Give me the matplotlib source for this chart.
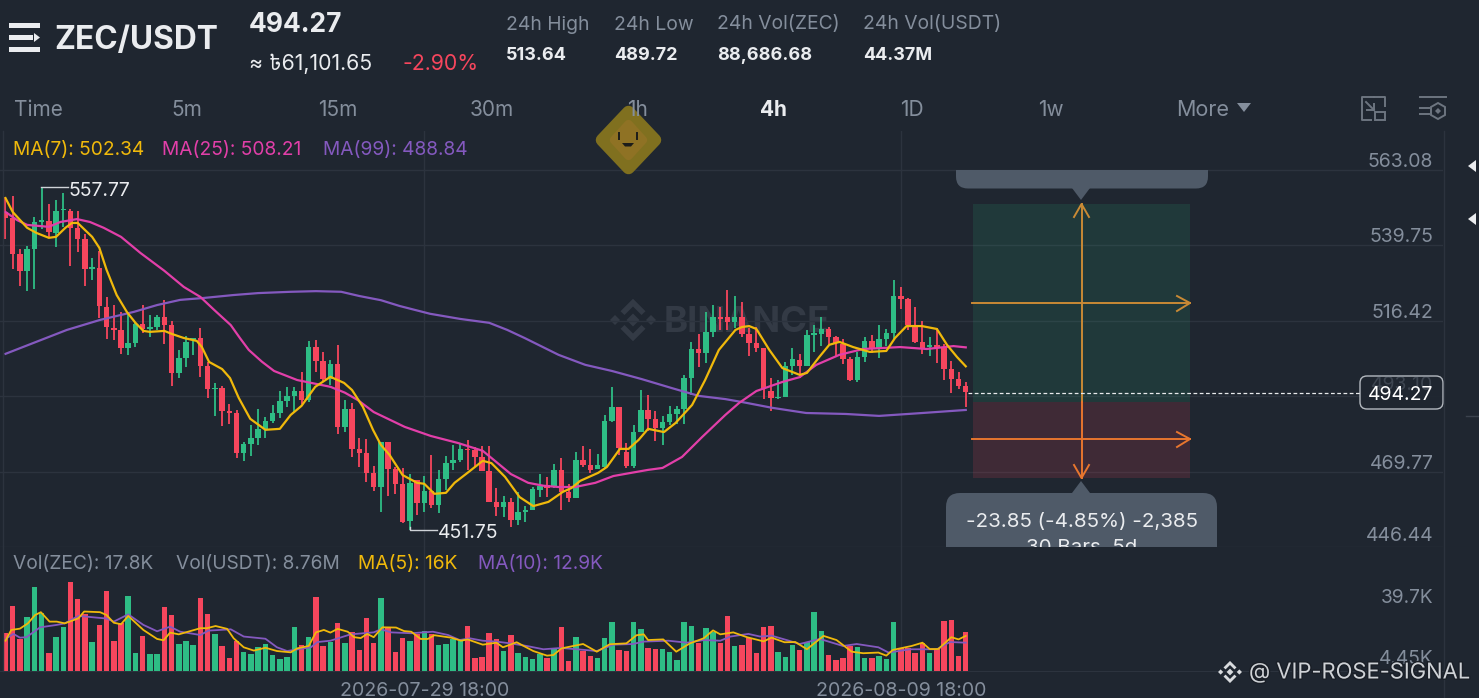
import matplotlib
matplotlib.use("Agg")
import matplotlib.pyplot as plt
from matplotlib.patches import Rectangle, FancyBboxPatch, Polygon
from matplotlib.transforms import ScaledTranslation
import matplotlib.patheffects as pe

plt.rcParams['font.family'] = ['Inter', 'Noto Sans Bengali', 'DejaVu Sans']

# candles, 4h bars
opens = [550.1,548.2,537.1,531.9,538.7,547.0,547.3,543.6,550.7,550.4,545.2,541.8,532.5,532.8,520.7,514.2,513.6,508.0,509.6,515.4,
         513.9,514.5,517.6,515.1,500.3,504.9,510.5,511.1,502.5,495.3,495.6,488.5,487.9,475.5,478.3,480.2,483.0,485.4,487.9,491.6,
         493.2,494.7,491.9,508.3,504.0,498.4,503.1,483.6,489.2,476.8,475.5,469.3,465.0,478.9,470.6,465.9,454.5,467.2,460.1,463.8,
         459.4,467.5,472.4,473.4,476.8,476.5,474.3,470.0,460.4,458.8,460.4,454.8,457.3,457.9,464.1,465.6,465.3,470.3,463.5,461.6,
         473.4,471.8,470.6,471.2,485.4,489.8,475.8,471.5,482.0,488.9,486.1,483.3,485.1,487.6,489.2,498.7,507.7,506.5,513.0,517.6,
         517.6,516.1,517.6,512.4,509.6,508.0,494.7,492.6,492.9,502.5,504.3,502.5,512.0,512.4,513.9,511.4,509.3,504.6,498.1,505.2,
         510.2,508.0,510.8,512.7,524.1,523.2,515.1,509.9,508.3,509.0,508.0,501.5,498.4,496.3]
highs = [554.7,555.1,538.7,539.6,548.6,557.77,552.6,553.8,556.0,551.0,550.4,543.3,535.9,538.0,523.8,521.3,519.2,518.9,515.8,521.3,
         518.2,518.2,522.9,516.4,507.4,511.7,511.1,514.2,503.7,497.2,496.3,490.7,488.9,478.9,484.2,489.2,486.7,490.4,494.7,495.9,
         495.9,500.6,510.2,510.5,506.8,504.3,508.9,491.9,491.0,480.2,479.9,471.5,478.9,478.9,471.2,470.9,469.0,467.2,468.4,474.9,
         470.3,474.6,478.0,478.6,479.6,477.4,477.7,477.7,464.7,462.2,461.6,463.5,459.1,465.0,469.0,468.1,472.1,474.0,466.0,475.8,
         477.7,476.8,475.2,487.3,495.9,489.8,478.6,484.2,495.0,493.5,488.5,487.0,490.1,490.1,499.7,509.9,512.4,519.2,521.3,520.7,
         526.0,524.1,522.3,514.2,514.5,508.0,498.7,498.1,503.7,508.0,506.2,513.6,515.1,517.6,514.5,511.7,510.8,505.2,506.8,511.4,
         512.0,515.1,513.9,529.1,526.9,523.5,520.7,516.4,511.4,514.2,509.3,504.0,500.6,497.5]
lows = [541.8,532.5,527.2,525.7,526.3,544.8,542.1,539.3,545.5,533.4,537.7,527.2,529.1,517.3,510.8,510.5,506.2,505.9,508.3,512.7,
        511.4,513.6,509.3,496.3,498.7,502.1,505.9,499.1,492.6,487.0,483.9,484.5,474.0,473.1,474.6,478.0,480.2,484.8,486.4,489.8,
        488.2,490.7,491.3,500.6,497.5,496.6,481.4,482.0,474.3,471.2,466.6,463.8,457.3,462.2,462.8,453.9,451.75,456.4,457.3,458.5,
        457.0,464.1,470.3,472.8,470.3,471.2,470.0,460.4,456.1,455.7,452.6,453.3,454.2,457.9,461.9,461.9,464.7,457.9,460.4,461.6,
        471.2,469.4,470.6,470.6,485.1,474.9,470.9,470.9,482.0,482.4,479.3,478.0,484.2,484.5,484.5,493.5,502.1,503.4,511.4,513.6,
        513.6,514.2,511.4,505.6,506.8,492.2,488.5,492.2,492.9,499.7,498.7,502.5,506.8,508.6,509.0,505.2,503.1,497.8,497.5,503.7,
        506.5,504.9,508.6,510.8,520.1,513.6,509.6,506.2,505.6,503.4,498.1,494.1,495.3,489.8]
closes = [548.2,537.1,531.9,538.7,547.0,547.6,543.9,550.4,551.0,545.2,541.8,532.5,533.1,521.0,514.5,513.6,508.0,509.6,515.4,513.9,
          514.5,517.6,515.1,500.3,504.9,509.9,511.0,502.5,495.3,495.6,488.5,487.9,475.5,478.3,480.2,483.0,485.4,487.9,491.6,493.2,
          494.7,491.9,508.3,504.0,498.4,503.1,483.6,489.2,476.8,475.5,469.3,465.0,478.9,470.6,465.9,454.2,466.3,460.1,463.8,459.4,
          467.5,472.4,473.4,476.8,476.5,474.3,470.0,460.4,458.8,460.4,454.8,457.3,457.9,464.4,465.3,464.7,470.3,463.5,461.6,473.4,
          471.8,470.3,471.8,485.4,489.8,477.1,471.5,482.0,488.9,486.1,483.3,485.1,487.6,489.2,498.7,507.7,506.5,513.0,517.6,517.0,
          516.1,517.6,512.4,509.6,508.0,495.3,492.6,492.9,502.5,504.6,502.5,512.0,512.7,513.9,511.4,509.6,504.6,498.1,505.2,510.2,
          508.0,510.8,512.7,524.1,523.2,515.1,509.9,508.0,509.0,508.0,501.5,498.4,496.3,494.27]

# traded volume in thousands
volumes = [17.2,29.8,14.6,24.8,38.3,26.3,8.2,15.4,19.9,40.4,33.0,26.0,13.1,20.8,36.3,13.7,21.7,34.2,8.2,16.1,
           7.6,7.9,29.3,25.7,12.3,13.8,11.7,33.4,26.1,16.9,11.2,5.9,13.8,8.8,7.8,10.9,12.2,7.1,5.6,6.4,
           20.2,11.9,15.5,33.7,11.6,13.1,21.9,12.8,17.8,9.6,24.3,12.8,33.3,19.5,8.5,15.0,13.7,16.7,18.1,16.9,
           12.0,12.3,14.6,13.7,20.5,6.1,6.2,17.2,14.4,9.0,16.3,8.2,6.5,5.6,7.9,6.1,10.6,20.2,4.6,15.5,
           9.3,6.8,6.1,15.0,22.3,9.6,9.1,22.2,19.0,10.3,9.9,10.2,8.7,5.2,22.2,20.5,12.6,19.6,17.9,12.9,
           25.2,11.4,11.7,14.9,8.4,20.2,20.5,8.7,6.4,11.7,9.7,13.2,26.9,18.4,7.3,4.9,5.9,11.4,10.8,6.1,
           6.1,6.7,5.5,22.3,10.3,10.3,8.4,12.6,8.1,10.0,23.0,23.3,7.0,17.8]

# moving averages, read at the bar positions in *_x
ma7_x = [0,1,3,4.3,6,7,8.3,9.2,10,12,13,14,15.4,16.8,18,19.1,20,22,23,24.7,26.5,27.2,28.2,30,31.1,32.3,33.9,36,38,39.5,41,42.9,45,
         46.9,48,49.5,50.9,52,53.2,55,57,58,59.4,61,62.2,64,66.1,67.3,69.2,71.2,73.1,75.2,77.2,78.4,79.6,82.1,83.3,85.1,86.3,87.7,89,
         91.2,92.8,95.1,96.9,98.8,101.1,102,103,104,105.8,107.6,110,111,112.7,114.1,115.5,117.4,119.7,122,123.2,124.8,126.9,129,130.4,131.8,133]
ma7 = [554.4,550.1,545.2,543.6,542.1,542.4,545.2,546.7,546.7,542.4,539.0,532.2,524.4,519.2,515.8,513.3,513.0,513.3,512.4,511.1,510.2,508.3,503.7,501.5,498.7,492.6,486.1,482.7,483.0,487.3,490.1,496.0,499.1,
       497.2,495.0,489.8,482.7,478.0,474.9,468.7,466.3,466.0,462.9,463.2,466.3,469.4,473.1,472.4,468.1,461.9,459.1,460.4,463.5,464.7,466.9,469.4,471.2,476.8,476.8,479.6,483.0,
       482.0,484.8,490.4,498.1,507.4,513.6,514.5,514.8,513.9,507.4,501.8,499.7,500.3,505.2,509.0,509.9,508.3,506.8,507.1,511.1,514.8,514.8,513.9,509.0,505.2,502.34]
ma25_x = [0,1.6,3,6,7.6,9.9,11.7,13.6,16,18.7,22,24.7,27,28.9,31.2,32.5,33.7,35.5,37.2,40.4,45,47,48.8,51,55.3,58.9,62.7,66.1,67.3,70,72.4,74.5,76.6,78.9,81.7,84.2,86.7,89,91,93.7,96.5,
          99.7,101.6,104,107.6,110,112.3,115.5,118.8,123.9,127.6,131.3,133]
ma25 = [550.1,547.6,546.1,545.5,547.0,547.9,547.0,545.2,542.4,537.4,531.9,526.9,523.8,519.8,515.1,511.0,507.4,503.8,500.9,498.1,496.0,494.2,491.9,488.2,483.6,480.8,478.6,476.2,474.0,469.0,466.3,465.4,465.0,465.0,466.3,468.4,469.4,470.3,470.9,474.3,480.5,
        487.3,491.0,494.7,497.5,499.0,502.8,505.9,507.7,508.3,507.7,508.6,508.21]
ma99_x = [0,3.9,8.5,13.1,17.8,21,24.2,27.5,31.6,35,39.5,43,46.5,49,52,54.6,58.8,63,67,69.5,71.9,76.6,80.3,84,88.1,92.3,96,99.7,102,106.2,110.9,116.4,121,127,133]
ma99 = [506.2,509.6,513.6,516.7,519.2,521.3,522.9,523.5,524.4,525.0,525.4,525.6,525.4,524.1,522.8,521.0,518.6,517.0,515.8,513.6,511.1,505.9,502.8,500.9,498.4,495.6,493.2,492.2,491.3,489.5,487.9,487.6,487.0,487.9,488.84]

vol_ma5_x = [0,0.8,2,3.1,4.1,4.9,6.1,7.1,8.2,10.1,10.9,13.1,14,15,16,17,19.1,21,21.9,22.8,24,27,27.9,29.1,30.7,31.6,33,34.4,36,37.6,39.5,40.4,42,43,44.1,45,46,47.4,48.3,49.2,50.1,51,52.2,54.1,55.2,56.2,57.5,58.5,59.4,61.7,63.1,64,66.1,68,68.9,
             70.8,73.1,75,75.9,77,80,81.9,83.7,86,87.4,88.4,89,91.1,92.9,94.8,96.7,98,99,100.8,102.7,105,106.1,107.9,109.4,111,113.3,115.1,117.2,118.8,120.9,122,122.9,125.5,127,128,129.2,131,132,133]
vol_ma5 = [13.8,18.7,19.3,21.7,25.5,26.8,22.5,22.5,21.7,24.0,27.1,26.8,25.5,22.0,21.3,25.1,18.7,14.6,14.0,17.5,16.7,19.5,19.5,20.5,19.2,14.9,10.8,9.3,10.6,9.1,8.5,10.3,11.4,17.6,18.7,17.5,19.2,17.9,15.4,15.0,16.9,15.4,19.9,19.8,18.2,17.9,14.6,14.6,16.3,15.2,13.8,14.4,12.0,12.9,10.8,
           13.1,9.1,7.0,7.3,10.3,12.3,8.8,12.2,12.6,16.3,16.7,14.1,14.4,8.8,12.6,14.9,18.5,16.7,17.6,15.4,13.5,15.2,13.1,13.2,9.9,16.0,14.1,8.8,8.1,8.4,7.0,9.6,11.4,12.9,10.0,10.0,15.4,14.4,16.0]
vol_ma10_x = [0,1.1,2,2.9,4.8,7.1,8.2,10.1,14,15,17,19.1,21,22.8,24.2,27,28.1,31.2,33,36,37.6,39,42.3,43.2,45,47.8,51,52,53.4,56.2,59.2,61.3,62.9,64.3,66.1,68,69.9,72.2,74.5,77,80.9,81.9,
              84.2,86.9,88.4,91.8,94.4,96.7,99,100.4,102.9,104.5,106.1,108.2,110,112.8,116,117.9,120.9,122.3,125.3,129,130.8,133]
vol_ma10 = [14.6,16.9,15.2,15.4,19.9,21.0,21.7,25.1,23.9,22.5,25.8,21.0,18.1,20.2,17.9,16.4,18.4,19.0,15.7,14.7,10.8,9.1,10.8,13.2,13.8,16.7,17.6,19.0,17.6,17.2,17.9,16.4,14.1,14.9,13.8,13.4,12.6,11.4,9.9,10.5,9.4,9.1,
            12.0,12.3,13.4,13.8,12.9,14.1,13.8,15.7,16.9,15.7,16.1,14.1,12.3,14.6,11.4,12.3,10.8,8.4,9.9,9.9,13.2,12.9]

price_ticks = [563.08, 539.75, 516.42, 493.10, 469.77, 446.44]
price_tick_labels = ['563.08', '539.75', '516.42', '', '469.77', '446.44']
vol_ticks = [39.7, 4.45]
vol_tick_labels = ['39.7K', '4.45K']
date_ticks = [58, 124]
date_labels = ['2026-07-29 18:00', '2026-08-09 18:00']

BG = '#1f2630'
GRID = '#2c333e'
UP = '#2ebd85'
DOWN = '#f6465d'
GREY = '#848e9c'
YELLOW = '#f0b90b'
PINK = '#e23fa9'
PURPLE = '#8459bf'
NUM_SIZE = 14

W, H = 1479, 698
fig = plt.figure(figsize=(W / 100, H / 100), dpi=100, facecolor=BG)

# backdrop (watermark), then chart panels, then overlay with the drawing tool
back = fig.add_axes([0, 0, 1, 1], zorder=0)
back.set_xlim(0, W)
back.set_ylim(H, 0)
back.axis('off')


def logo(a, cx, cy, s, color, **kw):
    # binance diamond made from small rhombi
    for dx, dy, r in [(0, 0, 0.26), (-0.72, 0, 0.2), (0.72, 0, 0.2)]:
        a.add_patch(Polygon([(cx + dx * s - r * s, cy + dy * s), (cx + dx * s, cy - r * s),
                             (cx + dx * s + r * s, cy + dy * s), (cx + dx * s, cy + r * s)], color=color, lw=0, **kw))
    a.add_patch(Polygon([(cx - 0.5 * s, cy - 0.35 * s), (cx, cy - 0.85 * s), (cx + 0.5 * s, cy - 0.35 * s), (cx + 0.34 * s, cy - 0.2 * s),
                         (cx, cy - 0.54 * s), (cx - 0.34 * s, cy - 0.2 * s)], color=color, lw=0, **kw))
    a.add_patch(Polygon([(cx - 0.5 * s, cy + 0.35 * s), (cx, cy + 0.85 * s), (cx + 0.5 * s, cy + 0.35 * s), (cx + 0.34 * s, cy + 0.2 * s),
                         (cx, cy + 0.54 * s), (cx - 0.34 * s, cy + 0.2 * s)], color=color, lw=0, **kw))


logo(back, 633, 320, 25, '#333a45')
back.text(664, 322, 'BINANCE', color='#333a45', fontsize=26.3, fontweight='bold', va='center', ha='left')

ax = fig.add_axes([0, (H - 547) / H, 1443 / W, (547 - 131) / H], zorder=1)
vax = fig.add_axes([0, (H - 671) / H, 1443 / W, (671 - 547) / H], zorder=1)

xlim = (-0.76, 199.1)
bars = list(range(len(opens)))
colors = [UP if c >= o else DOWN for o, c in zip(opens, closes)]

ax.patch.set_alpha(0)
ax.vlines(bars, lows, highs, colors=colors, lw=1.3, zorder=3)
ax.bar(bars, [abs(c - o) for o, c in zip(opens, closes)], bottom=[min(o, c) for o, c in zip(opens, closes)],
       width=0.76, color=colors, zorder=4)
ax.plot(ma99_x, ma99, color=PURPLE, lw=1.6, zorder=5)
ax.plot(ma25_x, ma25, color=PINK, lw=1.6, zorder=5)
ax.plot(ma7_x, ma7, color=YELLOW, lw=1.6, zorder=6)
ax.set_xlim(*xlim)
ax.set_ylim(446.44, 575.15)
ax.set_xticks(date_ticks)
ax.set_xticklabels([])
ax.set_yticks(price_ticks)
ax.set_yticklabels(price_tick_labels)
ax.yaxis.tick_right()
ax.tick_params(axis='both', length=0)
ax.tick_params(axis='y', pad=-7, labelsize=NUM_SIZE, labelcolor=GREY)
ax.grid(True, color=GRID, lw=1)
ax.set_axisbelow(True)
for s in ax.spines.values():
    s.set_visible(False)
price_labels = ax.get_yticklabels()
for lab in price_labels:
    lab.set_ha('right')
    lab.set_transform(lab.get_transform() + ScaledTranslation(0, 10 / 100, fig.dpi_scale_trans))
price_labels[-1].set_transform(price_labels[-1].get_transform() + ScaledTranslation(0, 3 / 100, fig.dpi_scale_trans))

vax.patch.set_alpha(0)
vax.bar(bars, volumes, width=0.76, color=colors, zorder=3)
vax.plot(vol_ma10_x, vol_ma10, color=PURPLE, lw=1.3, zorder=4)
vax.plot(vol_ma5_x, vol_ma5, color=YELLOW, lw=1.3, zorder=5)
vax.set_xlim(*xlim)
vax.set_ylim(0, 56.5)
vax.set_xticks(date_ticks)
vax.set_xticklabels(date_labels, color=GREY, fontsize=14.1)
vax.set_yticks(vol_ticks)
vax.set_yticklabels(vol_tick_labels)
vax.yaxis.tick_right()
vax.tick_params(axis='both', length=0)
vax.tick_params(axis='x', pad=8)
vax.tick_params(axis='y', pad=-7, labelsize=13.8, labelcolor=GREY)
vax.grid(True, axis='x', color=GRID, lw=1)
vax.set_axisbelow(True)
for name, s in vax.spines.items():
    s.set_visible(name == 'bottom')
    s.set_color(GRID)
vl = vax.get_yticklabels()
vl[0].set_ha('right')
vl[1].set_ha('right')
vl[0].set_transform(vl[0].get_transform() + ScaledTranslation(0, -12 / 100, fig.dpi_scale_trans))
vl[1].set_transform(vl[1].get_transform() + ScaledTranslation(0, 4 / 100, fig.dpi_scale_trans))

# overlay in pixel coordinates
top = fig.add_axes([0, 0, 1, 1], zorder=2)
top.set_xlim(0, W)
top.set_ylim(H, 0)
top.axis('off')
top.patch.set_alpha(0)


def label(x, y, s, **kw):
    # matplotlib centres on the full box, nudge down to sit on the reference text line
    kw.setdefault('va', 'center')
    return top.text(x, y + 2.5, s, **kw)


# panel frame lines
top.plot([2.5, 2.5], [131, 671], color=GRID, lw=1)
top.plot([1443.5, 1443.5], [131, H], color=GRID, lw=1)
top.plot([1466, W], [416, 416], color='#3b424d', lw=1)
top.add_patch(Polygon([(1468, 166), (1476, 160), (1476, 172)], color='#eaecef', lw=0))
top.add_patch(Polygon([(1468, 219), (1476, 213), (1476, 225)], color='#eaecef', lw=0))

# header
top.add_patch(Rectangle((9, 23), 31, 5, color='#eaecef', lw=0))
top.add_patch(Rectangle((9, 35), 24, 5, color='#eaecef', lw=0))
top.add_patch(Polygon([(34, 33), (40, 37.5), (34, 42)], color='#eaecef', lw=0))
top.add_patch(Rectangle((9, 47), 31, 5, color='#eaecef', lw=0))
label(54, 38, 'ZEC/USDT', color='#eaecef', fontsize=22.8, fontweight='bold')
label(249, 23, '494.27', color='#eaecef', fontsize=19, fontweight='bold')
label(249, 61, '≈ ৳61,101.65', color='#eaecef', fontsize=15.3)
label(402, 61, '-2.90%', color=DOWN, fontsize=15.3)

stat_x = [506, 614, 717, 863]
stat_names = ['24h High', '24h Low', '24h Vol(ZEC)', '24h Vol(USDT)']
stat_values = ['513.64', '489.72', '88,686.68', '44.37M']
for x, n, v in zip(stat_x, stat_names, stat_values):
    label(x, 22, n, color=GREY, fontsize=13.9)
    label(x, 53, v, color='#eaecef', fontsize=13, fontweight='bold')

for x, t in [(38, 'Time'), (187, '5m'), (338, '15m'), (492, '30m'), (638, '1h'), (912, '1D'), (1051, '1w')]:
    label(x, 108, t, color=GREY, fontsize=15, ha='center')
label(773, 108, '4h', color='#eaecef', fontsize=15, fontweight='bold', ha='center')
label(1176, 108, 'More', color=GREY, fontsize=15.5)
top.add_patch(Polygon([(1237, 103), (1251, 103), (1244, 112)], color=GREY, lw=0))

# toolbar icons
ICON = '#6d7580'
top.plot([1374, 1361.5, 1361.5, 1371], [97, 97, 120, 120], color=ICON, lw=1.4)
top.plot([1374, 1385, 1385, 1385], [97, 97, 106, 106], color=ICON, lw=1.4)
top.add_patch(Rectangle((1375, 112), 10, 8, fill=False, ec=ICON, lw=1.4))
top.plot([1366, 1374], [102, 110], color=ICON, lw=1.4)
top.plot([1374, 1374, 1367], [104, 110, 110], color=ICON, lw=1.4)
top.plot([1420, 1446], [97, 97], color=ICON, lw=1.4)
top.plot([1420, 1429], [108, 108], color=ICON, lw=1.4)
top.plot([1420, 1429], [114, 114], color=ICON, lw=1.4)
top.add_patch(Polygon([(1438, 103), (1445, 107), (1445, 115), (1438, 119), (1431, 115), (1431, 107)], fill=False, ec=ICON, lw=1.4))
top.add_patch(Polygon([(1438, 108), (1441, 111), (1438, 114), (1435, 111)], color=ICON, lw=0))

# mascot sticker over the tabs
top.add_patch(Polygon([(628.5, 112), (655, 140), (628.5, 168), (602, 140)], fc='#80701f', ec='#80701f', lw=9, joinstyle='round'))
top.add_patch(Polygon([(628.5, 124), (643, 140), (628.5, 156), (614, 140)], fc='#8f7224', ec='#8f7224', lw=6, joinstyle='round'))
top.plot([619, 619], [133, 139], color='#1c1c1a', lw=1.4)
top.plot([636.5, 636.5], [133, 139], color='#1c1c1a', lw=1.4)
top.add_patch(Polygon([(622, 143), (634, 143), (631, 146.5), (625, 146.5)], color='#1c1c1a', lw=0))

# legends
for x, t, c in [(13, 'MA(7): 502.34', YELLOW), (162, 'MA(25): 508.21', PINK), (323, 'MA(99): 488.84', PURPLE)]:
    label(x, 148, t, color=c, fontsize=13.8)
for x, t, c in [(13, 'Vol(ZEC): 17.8K', GREY), (176, 'Vol(USDT): 8.76M', GREY), (358, 'MA(5): 16K', YELLOW), (478, 'MA(10): 12.9K', PURPLE)]:
    label(x, 561, t, color=c, fontsize=13.8)

# high / low markers
top.plot([41, 68], [187, 187], color='#cfd3d8', lw=1)
label(69, 188, '557.77', color='#eaecef', fontsize=NUM_SIZE)
top.plot([410, 410, 437], [527, 530, 530], color='#cfd3d8', lw=1)
label(438, 530, '451.75', color='#eaecef', fontsize=NUM_SIZE)

# position tool
top.add_patch(Rectangle((973, 204), 217, 198, color=UP, alpha=0.13, lw=0))
top.add_patch(Rectangle((973, 402), 217, 76, color=DOWN, alpha=0.15, lw=0))
ARROW_UP = '#c98a35'
ARROW_DN = '#e8762e'
top.plot([1081.5, 1081.5], [204, 402], color=ARROW_UP, lw=1.4)
top.plot([1081.5, 1081.5], [402, 478], color=ARROW_DN, lw=1.4)
top.plot([1074, 1081.5, 1089], [217, 204, 217], color=ARROW_UP, lw=1.4)
top.plot([1074, 1081.5, 1089], [465, 478, 465], color=ARROW_DN, lw=1.4)
top.plot([972, 1190], [303, 303], color=ARROW_UP, lw=1.4)
top.plot([1177, 1190, 1177], [296, 303, 311], color=ARROW_UP, lw=1.4)
top.plot([972, 1190], [439, 439], color=ARROW_DN, lw=1.4)
top.plot([1177, 1190, 1177], [432, 439, 447], color=ARROW_DN, lw=1.4)

TIP = '#4f5a68'
clip_a = Rectangle((900, 170), 400, 60, transform=top.transData)
tip_a = FancyBboxPatch((956, 150), 252, 38.5, boxstyle='round,pad=0,rounding_size=12', fc=TIP, ec='none')
top.add_patch(tip_a)
tip_a.set_clip_path(clip_a)
top.add_patch(Polygon([(1072, 188), (1090, 188), (1081, 200)], color=TIP, lw=0))

clip_b = Rectangle((900, 470), 400, 77, transform=top.transData)
tip_b = FancyBboxPatch((946, 493), 271, 80, boxstyle='round,pad=0,rounding_size=14', fc=TIP, ec='none')
top.add_patch(tip_b)
tip_b.set_clip_path(clip_b)
top.add_patch(Polygon([(1072, 493), (1090, 493), (1081, 481)], color=TIP, lw=0))
label(1081.5, 519, '-23.85 (-4.85%) -2,385', color='#eaecef', fontsize=14.8, ha='center')
t2 = label(1081.5, 546, '30 Bars, 5d', color='#eaecef', fontsize=14.8, ha='center', clip_on=True)
t2.set_clip_path(clip_b)

# last price line and tag
top.plot([968, 1360], [392.5, 392.5], color='#e8eaec', lw=0.9, dashes=(3, 2))
label(1433, 383, '493.10', color=GREY, alpha=0.3, fontsize=NUM_SIZE, ha='right')
top.add_patch(FancyBboxPatch((1360, 376), 83, 33, boxstyle='round,pad=0,rounding_size=7', fc=BG, ec='#c4c9cf', lw=1, alpha=0.9))
label(1433, 392, '494.27', color='#ffffff', fontsize=NUM_SIZE, ha='right')

# user tag, bottom right
logo(top, 1230, 672, 13, '#d8dbde')
tag = label(1249, 670, '@ VIP-ROSE-SIGNAL', color='#cfd2d6', fontsize=15.8)
tag.set_path_effects([pe.withStroke(linewidth=2, foreground='#1a1f27')])

fig.savefig('out.png', dpi=100, facecolor=BG)
